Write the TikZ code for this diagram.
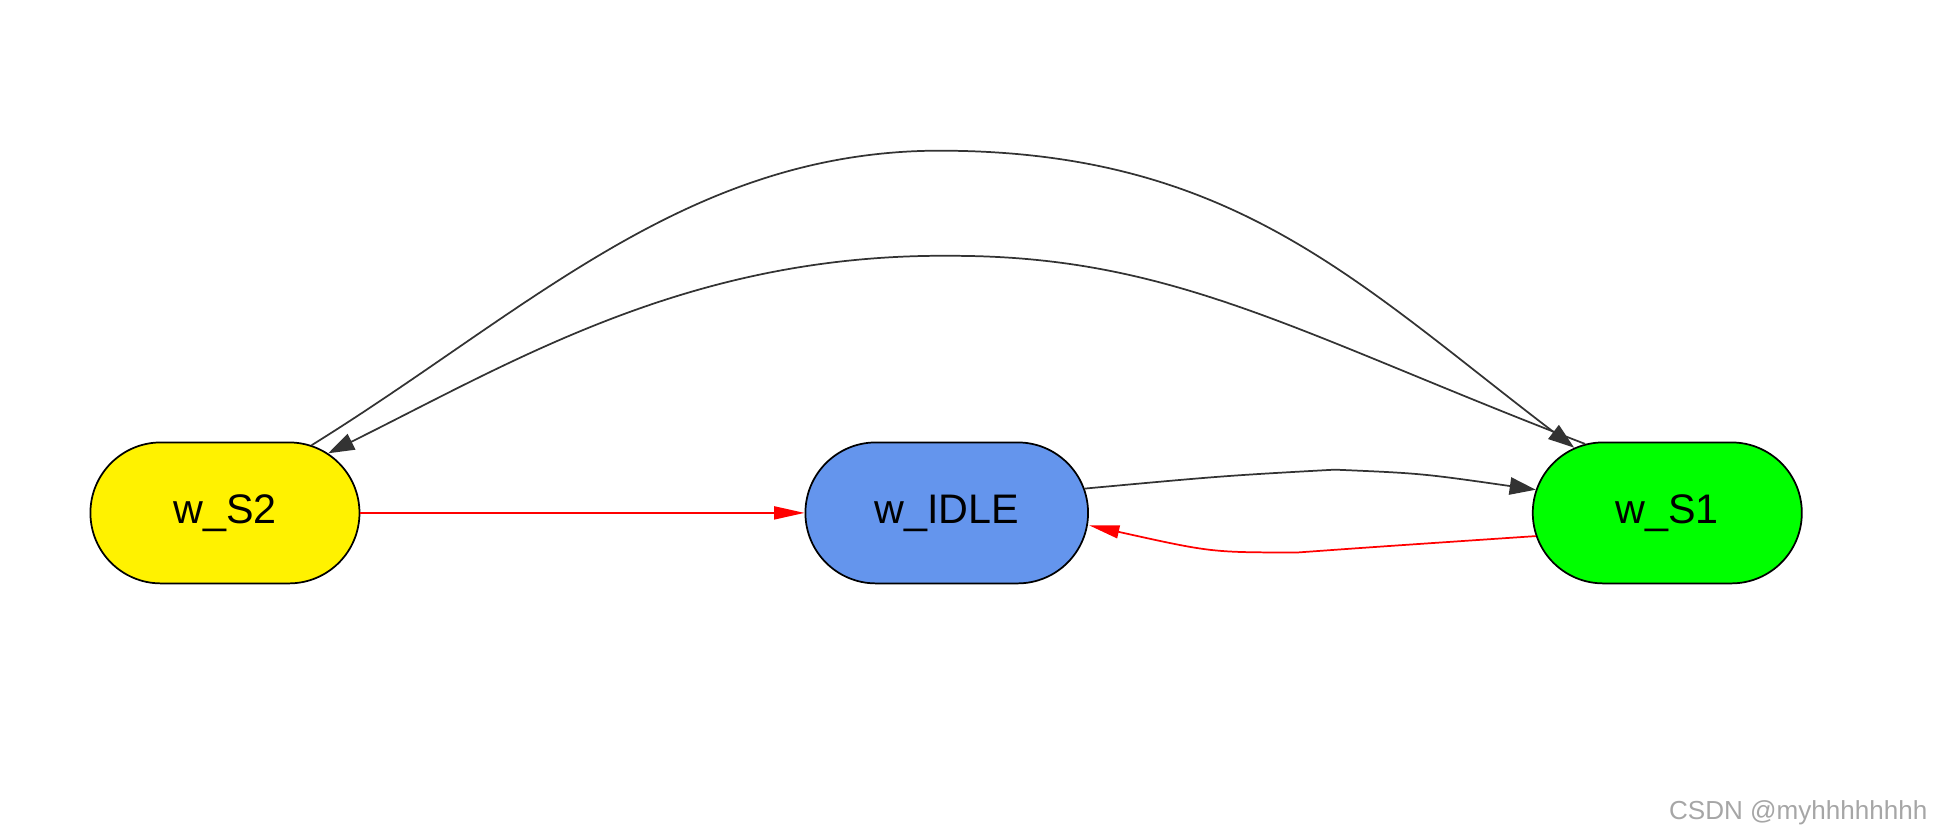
\documentclass[tikz,border=0pt]{standalone}
\usepackage{fontspec}
\setmainfont{Liberation Sans}
\usetikzlibrary{shapes.misc,arrows.meta}
\begin{document}
\begin{tikzpicture}[x=0.01cm,y=-0.01cm,
  st/.style={rounded rectangle,draw=black,line width=0.4pt,minimum width=2.41cm,minimum height=1.14cm,font=\fontsize{9.5}{11}\selectfont},
  blk/.style={draw=black!80,line width=0.4pt,-{Triangle[length=6pt,width=4pt]}},
  rd/.style={draw=red,line width=0.4pt,-{Triangle[length=7pt,width=3pt]}}]
\useasboundingbox (0,0) rectangle (1568,677);
\node[st,fill=yellow] (s2) at (182,415) {w\_S2};
\node[st,fill={rgb,255:red,100;green,149;blue,237},minimum width=2.52cm] (idle) at (766,415) {w\_IDLE};
\node[st,fill={rgb,255:red,0;green,255;blue,0}] (s1) at (1349,415) {w\_S1};
\coordinate (top1) at (770,122);
\coordinate (top2) at (770,207);
\coordinate (m1) at (1080,380);
\coordinate (m2) at (1050,447);
\draw[rd] (s2.east) -- (idle.west);
\draw[blk] (idle.10) .. controls (990,385) .. (m1) .. controls (1150,383) .. (s1.170);
\draw[rd] (s1.190) .. controls (1120,442) .. (m2) .. controls (980,447) .. (idle.east |- 0,425);
\draw[blk] (s2.38) .. controls (430,250) and (560,118) .. (top1) .. controls (1000,125) and (1100,230) .. (s1.145);
\draw[blk] (s1.140) .. controls (1050,270) and (950,207) .. (top2) .. controls (560,205) and (420,290) .. (s2.30);
\node[text=black!35,font=\fontsize{6}{7}\selectfont] (wm) at (1455,658) {CSDN @myhhhhhhhh};
\end{tikzpicture}
\end{document}
